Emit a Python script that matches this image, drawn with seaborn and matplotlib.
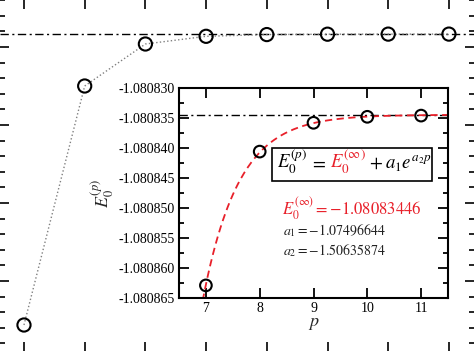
import numpy as np
import pandas as pd
import matplotlib
matplotlib.use("Agg")
import matplotlib.pyplot as plt
import matplotlib.patches as mpatches
from matplotlib.ticker import MultipleLocator, FormatStrFormatter
from matplotlib.transforms import IdentityTransform
import seaborn as sns

# ---------------- data ----------------
p_outer = [4, 5, 6, 7, 8, 9, 10, 11]
E_outer = [-1.0845641, -1.0815000, -1.0809615, -1.0808629,
           -1.0808406, -1.0808358, -1.0808348, -1.0808346]
p_inset = [7, 8, 9, 10, 11]
E_inset = [-1.0808629, -1.0808406, -1.0808358, -1.0808348, -1.0808346]
E_inf = -1.08083446
a1 = -1.07496644
a2 = -1.50635874

sns.set_style("ticks")
plt.rcParams['font.family'] = ['Liberation Serif', 'DejaVu Serif']
plt.rcParams['mathtext.fontset'] = 'stix'
plt.rcParams['axes.unicode_minus'] = False

fig = plt.figure(figsize=(4.74, 3.51), dpi=100)
fig.patch.set_facecolor('white')

# ---------------- outer axes ----------------
ax = fig.add_axes([0, 0, 1, 1])
ax.set_facecolor('white')
df_o = pd.DataFrame({'p': p_outer, 'E': E_outer})
sns.lineplot(data=df_o, x='p', y='E', ax=ax, color='#808080', lw=1.0,
             linestyle=':', zorder=2)
ax.axhline(E_inf, color='black', lw=1.0, linestyle=(0, (6, 2.5, 1.5, 2.5)), zorder=1)
sns.scatterplot(data=df_o, x='p', y='E', ax=ax, marker='o', s=90,
                facecolor='none', edgecolor='black', linewidth=1.5, zorder=3)
ax.set_xlim(3.605, 11.413)
ax.set_ylim(-1.0848974, -1.0803974)
for s in ax.spines.values():
    s.set_visible(False)
ax.xaxis.set_major_locator(MultipleLocator(1))
ax.yaxis.set_major_locator(MultipleLocator(0.001))
ax.yaxis.set_minor_locator(MultipleLocator(0.0002))
ax.tick_params(which='both', direction='in', top=True, right=True,
               labelbottom=False, labelleft=False, width=1.4)
ax.tick_params(which='major', length=6.5)
ax.tick_params(which='minor', length=3.6)
ax.set_xlabel('')
ax.set_ylabel('')

# ---------------- inset axes ----------------
ax_in = fig.add_axes([179/474, (351-298)/351, 269/474, 210/351])
ax_in.set_facecolor('white')
p_fit = np.linspace(6.9, 11.5, 200)
df_fit = pd.DataFrame({'p': p_fit, 'E': E_inf + a1*np.exp(a2*p_fit)})
ax_in.axhline(E_inf, color='black', lw=1.0, linestyle=(0, (6, 2.5, 1.5, 2.5)), zorder=1)
sns.lineplot(data=df_fit, x='p', y='E', ax=ax_in, color='#e8202a', lw=1.3,
             linestyle=(0, (4, 2.5)), zorder=2)
df_i = pd.DataFrame({'p': p_inset, 'E': E_inset})
sns.scatterplot(data=df_i, x='p', y='E', ax=ax_in, marker='o', s=70,
                facecolor='none', edgecolor='black', linewidth=1.5, zorder=3)
ax_in.set_xlim(6.5, 11.5)
ax_in.set_ylim(-1.080865, -1.080830)
for s in ax_in.spines.values():
    s.set_linewidth(1.5)
    s.set_color('black')
ax_in.xaxis.set_major_locator(MultipleLocator(1))
ax_in.yaxis.set_major_locator(MultipleLocator(5e-6))
ax_in.yaxis.set_minor_locator(MultipleLocator(2.5e-6))
ax_in.yaxis.set_major_formatter(FormatStrFormatter('%.6f'))
ax_in.tick_params(which='both', direction='in', top=True, right=True,
                  width=1.3, labelsize=10, colors='black', pad=3)
ax_in.tick_params(which='major', length=7)
ax_in.tick_params(which='minor', length=3.5)
ax_in.set_xlabel('$p$', fontsize=13, labelpad=0)
ax_in.set_ylabel('$E_0^{(p)}$', fontsize=13, labelpad=2)

# boxed formula
rect = mpatches.Rectangle((0.346, 0.557), 0.595, 0.157, transform=ax_in.transAxes,
                          facecolor='white', edgecolor='black', lw=1.2, zorder=4)
ax_in.add_patch(rect)
fs_box = 13.5
renderer = fig.canvas.get_renderer()
x0, y0 = ax_in.transAxes.transform((0.363, 0.615))
pieces = [(r'$E_0^{(p)}$', 'black', 0),
          (r'$=$', 'black', 3),
          (r'$E_0^{(\infty)}$', '#e8202a', 3),
          (r'$+$', 'black', 3),
          (r'$a_1 e^{a_2 p}$', 'black', 3)]
x = x0
for txt, col, gap in pieces:
    x += gap
    t = fig.text(x, y0, txt, transform=IdentityTransform(), fontsize=fs_box,
                 color=col, va='baseline', ha='left', zorder=6)
    bb = t.get_window_extent(renderer)
    x = bb.x1

ax_in.text(0.383, 0.395, r'$E_0^{(\infty)} = -1.08083446$', transform=ax_in.transAxes,
           fontsize=12, color='#e8202a', va='baseline', ha='left', zorder=5)
ax_in.text(0.387, 0.30, r'$a_1 = -1.07496644$', transform=ax_in.transAxes,
           fontsize=10, color='#222222', va='baseline', ha='left', zorder=5)
ax_in.text(0.387, 0.205, r'$a_2 = -1.50635874$', transform=ax_in.transAxes,
           fontsize=10, color='#222222', va='baseline', ha='left', zorder=5)

fig.savefig('out.png', dpi=100, facecolor='white')
